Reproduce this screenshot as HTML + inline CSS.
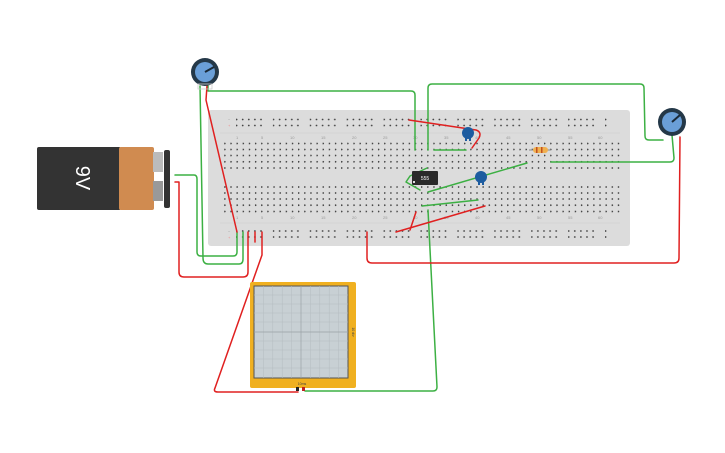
<!DOCTYPE html>
<html><head><meta charset="utf-8"><style>
html,body{margin:0;padding:0;background:#fff;width:725px;height:453px;overflow:hidden}
svg{display:block}
text{font-family:"Liberation Sans",sans-serif}
</style></head><body>
<svg width="725" height="453" viewBox="0 0 725 453" xmlns="http://www.w3.org/2000/svg">
<defs>
<pattern id="rail" x="236" y="0" width="36.9" height="453" patternUnits="userSpaceOnUse">
<g fill="#444"><circle cx="0.6" cy="119.5" r="0.9"/><circle cx="6.7" cy="119.5" r="0.9"/><circle cx="12.8" cy="119.5" r="0.9"/><circle cx="18.9" cy="119.5" r="0.9"/><circle cx="25" cy="119.5" r="0.9"/>
<circle cx="0.6" cy="125.5" r="0.9"/><circle cx="6.7" cy="125.5" r="0.9"/><circle cx="12.8" cy="125.5" r="0.9"/><circle cx="18.9" cy="125.5" r="0.9"/><circle cx="25" cy="125.5" r="0.9"/>
<circle cx="0.6" cy="231" r="0.9"/><circle cx="6.7" cy="231" r="0.9"/><circle cx="12.8" cy="231" r="0.9"/><circle cx="18.9" cy="231" r="0.9"/><circle cx="25" cy="231" r="0.9"/>
<circle cx="0.6" cy="237" r="0.9"/><circle cx="6.7" cy="237" r="0.9"/><circle cx="12.8" cy="237" r="0.9"/><circle cx="18.9" cy="237" r="0.9"/><circle cx="25" cy="237" r="0.9"/></g>
</pattern>
<pattern id="main" x="236.5" y="0" width="6.15" height="453" patternUnits="userSpaceOnUse">
<g fill="#444"><circle cx="0.6" cy="143.5" r="0.9"/><circle cx="0.6" cy="149.5" r="0.9"/><circle cx="0.6" cy="155.5" r="0.9"/><circle cx="0.6" cy="161.8" r="0.9"/><circle cx="0.6" cy="168" r="0.9"/>
<circle cx="0.6" cy="187" r="0.9"/><circle cx="0.6" cy="193" r="0.9"/><circle cx="0.6" cy="199" r="0.9"/><circle cx="0.6" cy="205.2" r="0.9"/><circle cx="0.6" cy="211.5" r="0.9"/></g>
</pattern>
</defs>
<rect x="208" y="110" width="422" height="136" rx="3" fill="#dcdcdc"/>
<rect x="234" y="115" width="375" height="15" fill="url(#rail)"/>
<rect x="234" y="226" width="375" height="15" fill="url(#rail)"/>
<rect x="222" y="140" width="398" height="75" fill="url(#main)"/>
<line x1="220" y1="133" x2="620" y2="133" stroke="#ccc" stroke-width="0.6"/>
<line x1="220" y1="223" x2="620" y2="223" stroke="#ccc" stroke-width="0.6"/>
<g font-size="4" fill="#999">
<text x="228" y="121">−</text><text x="228" y="127" fill="#e88">+</text>
<text x="228" y="233">−</text><text x="228" y="239" fill="#e88">+</text>
<text x="236" y="139">1</text><text x="261" y="139">5</text><text x="290" y="139">10</text><text x="321" y="139">15</text><text x="352" y="139">20</text><text x="383" y="139">25</text><text x="413" y="139">30</text><text x="444" y="139">35</text><text x="475" y="139">40</text><text x="506" y="139">45</text><text x="537" y="139">50</text><text x="568" y="139">55</text><text x="598" y="139">60</text>
<text x="236" y="219">1</text><text x="261" y="219">5</text><text x="290" y="219">10</text><text x="321" y="219">15</text><text x="352" y="219">20</text><text x="383" y="219">25</text><text x="413" y="219">30</text><text x="444" y="219">35</text><text x="475" y="219">40</text><text x="506" y="219">45</text><text x="537" y="219">50</text><text x="568" y="219">55</text><text x="598" y="219">60</text>
</g>
<rect x="37" y="147" width="84" height="63" rx="2" fill="#333"/>
<rect x="119" y="147" width="35" height="63" rx="2" fill="#d08b50"/>
<rect x="153" y="152" width="10" height="20" fill="#bbb"/>
<rect x="153" y="181" width="10" height="20" fill="#999"/>
<rect x="164" y="150" width="6" height="58" rx="2" fill="#333"/>
<text x="0" y="0" font-size="20" fill="#fff" transform="translate(76,178) rotate(90)" text-anchor="middle">9V</text>
<g fill="none" stroke-width="1.5" stroke-linecap="round" stroke-linejoin="round">
<g stroke="#3cb043">
<path d="M175 175 L194 175 Q197 175 197 179 L197 252 Q197 256 201 256 L233 256 Q237 256 237 252 L237 232"/>
<path d="M200 86 L203 258 Q203 264 208 264 L239 264 Q243 264 243 259 L243 232"/>
<path d="M208 86 L208 91 L411 91 Q415 91 415 95 L415 150"/>
<path d="M428 150 L428 88 Q428 84 432 84 L640 84 Q644 84 644 88 L645 136 Q645 140 649 140 L663 140"/>
<path d="M672 135 L674 158 Q674 162 670 162 L551 162"/>
<path d="M434 150 L466 150"/>
<path d="M427 168 L410 176 L406 182 L420 190"/>
<path d="M428 192 L527 163"/>
<path d="M422 206 L478 200"/>
<path d="M428 210 L437 387 Q437 391 433 391 L305 391"/>
</g>
<g stroke="#e02020">
<path d="M207 86 L206 100 L237 232"/>
<path d="M175 182 L179 182 L179 272 Q179 277 184 277 L243 277 Q248 277 248 272 L248 232"/>
<path d="M255 232 L255 242"/>
<path d="M262 232 L262 255 L215 388 Q213 392 218 392 L298 392"/>
<path d="M409 120 L476 130 Q482 132 479 138 L472 148"/>
<path d="M396 232 L485 206"/>
<path d="M410 230 L416 212"/>
<path d="M367 232 L367 258 Q367 263 372 263 L674 263 Q679 263 679 258 L680 137"/>
</g>
</g>
<rect x="412" y="171" width="26" height="14" rx="1" fill="#2a2a2a"/>
<rect x="413" y="181" width="2" height="2" fill="#ddd"/>
<text x="425" y="180" font-size="5" fill="#fff" text-anchor="middle">555</text>
<g fill="#1d5ca0"><ellipse cx="468" cy="133" rx="6" ry="6"/><rect x="465" y="136" width="2" height="5"/><rect x="469" y="136" width="2" height="5"/>
<ellipse cx="481" cy="177" rx="6" ry="6"/><rect x="478" y="180" width="2" height="5"/><rect x="482" y="180" width="2" height="5"/></g>
<line x1="529" y1="150" x2="551" y2="150" stroke="#888" stroke-width="1"/>
<rect x="533" y="147" width="15" height="6" rx="3" fill="#f0b050"/>
<rect x="536" y="147" width="1.5" height="6" fill="#c05020"/><rect x="541" y="147" width="1.5" height="6" fill="#c05020"/>
<g><circle cx="205" cy="72" r="14" fill="#243848"/><circle cx="205" cy="72" r="10" fill="#6a9fd8"/><line x1="205" y1="72" x2="214" y2="67" stroke="#1a2a38" stroke-width="2"/>
<rect x="198" y="84" width="14" height="5" fill="none" stroke="#ccc" stroke-width="0.8"/></g>
<g><circle cx="672" cy="122" r="14" fill="#243848"/><circle cx="672" cy="122" r="10" fill="#6a9fd8"/><line x1="672" y1="122" x2="680" y2="115" stroke="#1a2a38" stroke-width="2"/></g>
<rect x="250" y="282" width="106" height="106" rx="2" fill="#f0b020"/>
<rect x="254" y="286" width="94" height="92" fill="#c8d0d4" stroke="#555" stroke-width="1"/>
<g stroke="#b4bcc0" stroke-width="0.5">
<line x1="263.4" y1="286" x2="263.4" y2="378"/><line x1="272.8" y1="286" x2="272.8" y2="378"/><line x1="282.2" y1="286" x2="282.2" y2="378"/><line x1="291.6" y1="286" x2="291.6" y2="378"/><line x1="310.4" y1="286" x2="310.4" y2="378"/><line x1="319.8" y1="286" x2="319.8" y2="378"/><line x1="329.2" y1="286" x2="329.2" y2="378"/><line x1="338.6" y1="286" x2="338.6" y2="378"/>
<line x1="254" y1="295" x2="348" y2="295"/><line x1="254" y1="304" x2="348" y2="304"/><line x1="254" y1="313" x2="348" y2="313"/><line x1="254" y1="322" x2="348" y2="322"/><line x1="254" y1="341" x2="348" y2="341"/><line x1="254" y1="350" x2="348" y2="350"/><line x1="254" y1="359" x2="348" y2="359"/><line x1="254" y1="368" x2="348" y2="368"/>
</g>
<line x1="301" y1="286" x2="301" y2="378" stroke="#9aa2a6" stroke-width="0.7"/>
<line x1="254" y1="332" x2="348" y2="332" stroke="#9aa2a6" stroke-width="0.7"/>
<text x="302" y="385" font-size="3.5" fill="#444" text-anchor="middle">10ms</text>
<text x="0" y="0" font-size="3.5" fill="#444" transform="translate(352,332) rotate(90)" text-anchor="middle">10 div</text>
<rect x="296" y="387" width="3" height="4" fill="#222"/><rect x="302" y="387" width="3" height="4" fill="#c02020"/>
</svg>
</body></html>
